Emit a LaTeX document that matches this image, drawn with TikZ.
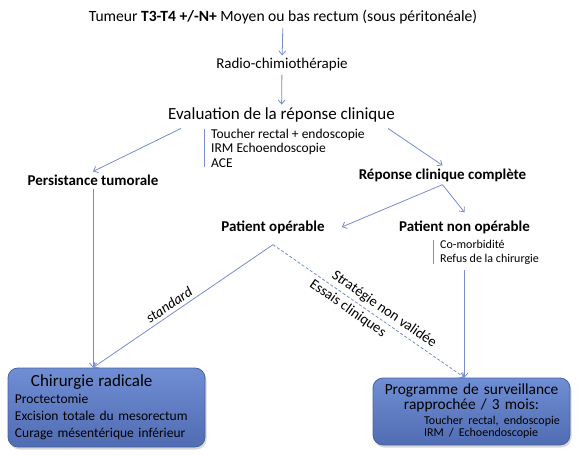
\documentclass[tikz,border=0pt]{standalone}
\usepackage{fontspec}
\setmainfont{Carlito}
\usetikzlibrary{arrows.meta,shadows}
\definecolor{linkblue}{RGB}{118,140,206}
\definecolor{boxtop}{RGB}{112,142,212}
\definecolor{boxbot}{RGB}{80,108,178}
\definecolor{boxline}{RGB}{72,98,164}

\begin{document}
\begin{tikzpicture}[x=1pt, y=-1pt,
      link/.style = {draw=linkblue, line width=0.8pt, -{Straight Barb[length=4pt,width=7pt]}},
      trial/.style = {link, dash pattern=on 3pt off 2pt},
      bar/.style = {draw=linkblue, line width=0.8pt},
      head/.style = {inner sep=3pt, font=\fontsize{15}{18}\selectfont},
      branch/.style = {inner sep=3pt, font=\fontsize{15}{18}\selectfont\bfseries},
      detail/.style = {inner xsep=7pt, inner ysep=0pt, align=left, font=\fontsize{13.5}{14.5}\selectfont},
      care/.style = {draw=boxline, line width=0.8pt, rounded corners=10pt,
        top color=boxtop, bottom color=boxbot, minimum width=197pt, inner sep=0pt,
        drop shadow={shadow xshift=1.5pt, shadow yshift=-2.5pt, opacity=.3}},
      tag/.style = {sloped, font=\fontsize{14.5}{16}\selectfont}]
    \useasboundingbox (0,0) rectangle (579,460);

    % nodes
    \node[head, font=\fontsize{15.6}{18}\selectfont] (tumeur) at (283,17) {Tumeur \textbf{T3-T4 +/-N+} Moyen ou bas rectum (sous péritonéale)};
    \node[head] (rct) at (282,65) {Radio-chimiothérapie};
    \node[head, font=\fontsize{17}{20}\selectfont] (eval) at (281.5,115) {Evaluation de la réponse clinique};
    \node[detail, anchor=west] (bilan) at (204,148) {Toucher rectal + endoscopie\\IRM Echoendoscopie\\ACE};
    \node[branch] (persist) at (93,180) {Persistance tumorale};
    \node[branch] (complete) at (442.5,175) {Réponse clinique complète};
    \node[branch] (oper) at (273,227) {Patient opérable};
    \node[branch] (nonoper) at (464.5,227) {Patient non opérable};
    \node[detail, anchor=west, font=\fontsize{12}{14}\selectfont] (motif) at (433,252) {Co-morbidité\\Refus de la chirurgie};
    \node[care, minimum height=79pt, text width=183pt, align=left, font=\fontsize{13.5}{17}\selectfont] (chir) at (106.5,407.5)
      {{\fontsize{17}{17}\selectfont\hspace*{16pt}Chirurgie radicale}\\Proctectomie\\Excision totale du mesorectum\\Curage mésentérique inférieur};
    \node[care, minimum height=67pt, text width=183pt, align=center, font=\fontsize{15.4}{15}\selectfont] (prog) at (471.5,411.5)
      {Programme de surveillance\hspace*{12pt}\\rapprochée / 3 mois:\hspace*{21pt}\\
       \hspace*{41pt}{\fontsize{12}{11.5}\selectfont\begin{tabular}[t]{@{}l@{}}Toucher rectal, endoscopie\\IRM / Echoendoscopie\end{tabular}}};

    % edges
    \draw[link, shorten <=1pt] (tumeur) -- (rct);
    \draw[link] (rct) -- (eval);
    \draw[link] ([xshift=16pt,yshift=-3pt]eval.south west) -- (persist.north);
    \draw[link] ([xshift=-10pt,yshift=-3pt]eval.south east) -- (complete.north);
    \draw[bar] (bilan.north west) -- (bilan.south west);
    \draw[link] (persist) -- (persist |- chir.north);
    \draw[link] (complete.south) -- ([xshift=14pt]oper.east);
    \draw[link] (complete.south) -- ([yshift=5pt]nonoper.north);
    \draw[bar] (motif.north west) -- (motif.south west);
    \draw[link] ([yshift=-6pt]motif.south -| nonoper) -- (nonoper |- prog.north);
    \draw[link] ([yshift=-8pt]oper.south) -- node[tag, above, pos=.55] {\itshape standard} (persist |- chir.north);
    \draw[trial] ([yshift=-8pt]oper.south) -- node[tag, above, pos=.55] {Stratégie non validée}
      node[tag, below, pos=.42] {Essais cliniques} (nonoper |- prog.north);
  \end{tikzpicture}
\end{document}
